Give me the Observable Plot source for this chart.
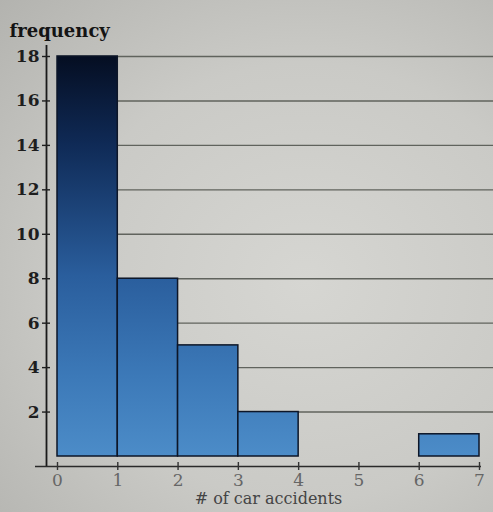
<!DOCTYPE html>
<html>
<head>
<meta charset="utf-8">
<script src="https://cdn.jsdelivr.net/npm/d3@7"></script>
<script src="https://cdn.jsdelivr.net/npm/@observablehq/plot@0.6"></script>
<style>
  html, body { margin: 0; padding: 0; }
  body {
    width: 493px; height: 512px; overflow: hidden;
    background: radial-gradient(ellipse at 62% 55%, #d6d6d2 0%, #cacac6 55%, #b3b3af 100%);
  }
  svg { display: block; background: transparent !important; }
  g[aria-label="y-axis tick label"] { font-size: 17px !important; font-weight: bold; }
  g[aria-label="y-axis tick label"] text { font-size: 17px !important; }
  g[aria-label="x-axis tick label"] { font-size: 17px !important; }
  g[aria-label="x-axis tick label"] text { font-size: 17px !important; }
</style>
</head>
<body>
<div id="chart"></div>
<script>
// Histogram bins (number of car accidents) and frequencies
const binStart = [0, 1, 2, 3, 6];
const binEnd   = [1, 2, 3, 4, 7];
const frequency = [18, 8, 5, 2, 1];
const yTicks = [2, 4, 6, 8, 10, 12, 14, 16, 18];
const xTicks = [0, 1, 2, 3, 4, 5, 6, 7];
const xDomain = [0, 7];
const yDomain = [0, 18];

const bins = binStart.map((s, i) => ({x1: s, x2: binEnd[i], y: frequency[i]}));

const serif = "'DejaVu Serif', 'Liberation Serif', serif";

const chart = Plot.plot({
  width: 493,
  height: 512,
  marginLeft: 46,
  marginRight: 13,
  marginTop: 45,
  marginBottom: 46,
  style: {fontFamily: serif, fontSize: "17px", background: "transparent", overflow: "visible"},
  x: {domain: xDomain, range: [57, 479]},
  y: {domain: yDomain, range: [456, 56]},
  marks: [
    // grid lines
    Plot.ruleY(yTicks, {x1: xDomain[0], x2: xDomain[1], insetRight: -14, stroke: "#60635d", strokeWidth: 1.4}),
    // bars
    Plot.rectY(bins, {x1: "x1", x2: "x2", y: "y", fill: "url(#barGrad)", stroke: "#0d1628", strokeWidth: 1.5}),
    // axis lines
    Plot.ruleX([0], {dx: -11, stroke: "#1a1a1a", strokeWidth: 1.8}),
    Plot.ruleY([0], {dy: 10, insetLeft: -11, insetRight: -1, stroke: "#2a2a2a", strokeWidth: 1.6}),
    Plot.axisY({
      ticks: yTicks, tickSize: 8, dx: 4, tickPadding: 3,
      label: null, fontSize: 17, fontWeight: "bold", color: "#1e1e1e",
      stroke: "#1e1e1e", strokeWidth: 1.4
    }),
    Plot.axisX({
      ticks: xTicks, tickSize: 8, dy: -4, tickPadding: 3,
      label: null, fontSize: 17, color: "#666", tickFormat: d => String(d),
      stroke: "#333", strokeWidth: 1.4
    }),
    Plot.text(["frequency"], {frameAnchor: "top-left", dx: -37, dy: -21, fontSize: 18, fontWeight: "bold", fill: "#141414", textAnchor: "start", fontFamily: serif}),
    Plot.text(["# of car accidents"], {x: 3.5, frameAnchor: "bottom", dy: 37, fontSize: 16, fill: "#444", fontFamily: serif})
  ]
});

document.getElementById("chart").appendChild(chart);

// vertical gradient for bars, mapped through the y scale
const ys = chart.scale("y");
const svg = d3.select(chart.tagName.toLowerCase() === "svg" ? chart : chart.querySelector("svg"));
const grad = svg.insert("defs", ":first-child").append("linearGradient")
  .attr("id", "barGrad").attr("gradientUnits", "userSpaceOnUse")
  .attr("x1", 0).attr("x2", 0)
  .attr("y1", ys.apply(yDomain[1])).attr("y2", ys.apply(yDomain[0]));
[[0, "#050e22"], [0.22, "#0f2a56"], [0.55, "#2a5e9d"], [0.8, "#3c79b8"], [1, "#4c8cc8"]]
  .forEach(([o, c]) => grad.append("stop").attr("offset", o).attr("stop-color", c));
</script>
</body>
</html>
